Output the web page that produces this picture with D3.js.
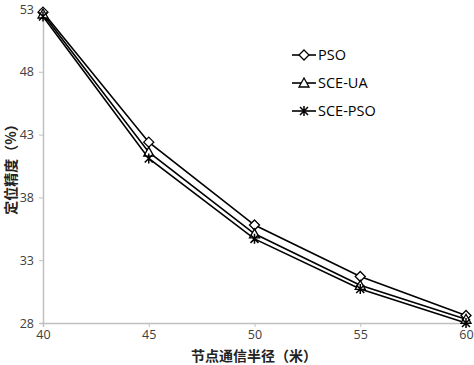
<!DOCTYPE html>
<html>
<head>
<meta charset="utf-8">
<script src="https://cdn.jsdelivr.net/npm/d3@7"></script>
<style>
  body { margin: 0; background: #fff; }
  svg { display: block; }
</style>
</head>
<body>
<div id="chart"></div>
<script>
const radius = [40, 45, 50, 55, 60];
const psoVals = [52.75, 42.4, 35.8, 31.7, 28.6];
const sceuaVals = [52.6, 41.6, 35.1, 31.0, 28.3];
const scepsoVals = [52.4, 41.1, 34.7, 30.7, 28.0];
const yTicks = [28, 33, 38, 43, 48, 53];
const seriesNames = ['PSO', 'SCE-UA', 'SCE-PSO'];

const width = 474, height = 365;
const svg = d3.select('#chart').append('svg')
  .attr('width', width).attr('height', height);

const x = d3.scaleLinear().domain([40, 60]).range([43, 466]);
const y = d3.scaleLinear().domain([28, 53]).range([323, 9]);

// axes
const yAxis = svg.append('g').attr('transform', 'translate(43,0)')
  .call(d3.axisLeft(y).tickValues(yTicks).tickSize(4).tickPadding(5));
const xAxis = svg.append('g').attr('transform', 'translate(0,323)')
  .call(d3.axisBottom(x).tickValues(radius).tickSize(4).tickPadding(3));

[yAxis, xAxis].forEach(a => {
  a.select('.domain').attr('stroke', '#c0c0c0').attr('stroke-width', 1.5);
  a.selectAll('.tick line').attr('stroke', '#c0c0c0');
  a.selectAll('.tick text')
    .attr('fill', '#404040')
    .style('font-family', '"Open Sans", sans-serif')
    .style('font-size', '12.5px');
});

const series = [
  { name: seriesNames[0], vals: psoVals, marker: 'diamond' },
  { name: seriesNames[1], vals: sceuaVals, marker: 'triangle' },
  { name: seriesNames[2], vals: scepsoVals, marker: 'star' }
];

const line = d3.line().x(d => x(d[0])).y(d => y(d[1]));

const drawMarker = (g, type, cx, cy) => {
  if (type === 'diamond') {
    g.append('path')
      .attr('d', `M${cx},${cy - 5}L${cx + 5},${cy}L${cx},${cy + 5}L${cx - 5},${cy}Z`)
      .attr('fill', '#fff').attr('stroke', '#000').attr('stroke-width', 1.3);
  } else if (type === 'triangle') {
    g.append('path')
      .attr('d', `M${cx},${cy - 5}L${cx + 5},${cy + 4}L${cx - 5},${cy + 4}Z`)
      .attr('fill', '#fff').attr('stroke', '#000').attr('stroke-width', 1.3);
  } else {
    g.append('path')
      .attr('d', `M${cx - 4},${cy - 4}L${cx + 4},${cy + 4}M${cx - 4},${cy + 4}L${cx + 4},${cy - 4}M${cx},${cy - 5}L${cx},${cy + 5}`)
      .attr('fill', 'none').attr('stroke', '#000').attr('stroke-width', 1.5);
  }
};

const plot = svg.append('g');
series.forEach(s => {
  const pts = radius.map((r, i) => [r, s.vals[i]]);
  plot.append('path')
    .datum(pts)
    .attr('d', line)
    .attr('fill', 'none')
    .attr('stroke', '#000')
    .attr('stroke-width', 1.6);
});
series.forEach(s => {
  const mg = plot.append('g');
  radius.forEach((r, i) => drawMarker(mg, s.marker, x(r), y(s.vals[i])));
});

// legend
const legend = svg.append('g');
series.forEach((s, i) => {
  const ly = 55 + i * 28;
  legend.append('line')
    .attr('x1', 292).attr('x2', 316).attr('y1', ly).attr('y2', ly)
    .attr('stroke', '#000').attr('stroke-width', 1.6);
  drawMarker(legend, s.marker, 304, ly);
  legend.append('text')
    .attr('x', 318).attr('y', ly + 5)
    .attr('fill', '#000')
    .style('font-family', '"Open Sans", sans-serif')
    .style('font-size', '14.5px')
    .text(s.name);
});

// axis titles
svg.append('text')
  .attr('x', 254).attr('y', 361)
  .attr('text-anchor', 'middle')
  .style('font-family', '"Noto Sans CJK SC", sans-serif')
  .style('font-weight', 'bold')
  .style('font-size', '14px')
  .attr('fill', '#222')
  .text('节点通信半径（米）');

svg.append('text')
  .attr('transform', 'translate(16,166) rotate(-90)')
  .attr('text-anchor', 'middle')
  .style('font-family', '"Noto Sans CJK SC", sans-serif')
  .style('font-weight', 'bold')
  .style('font-size', '14px')
  .attr('fill', '#222')
  .text('定位精度（%）');
</script>
</body>
</html>
